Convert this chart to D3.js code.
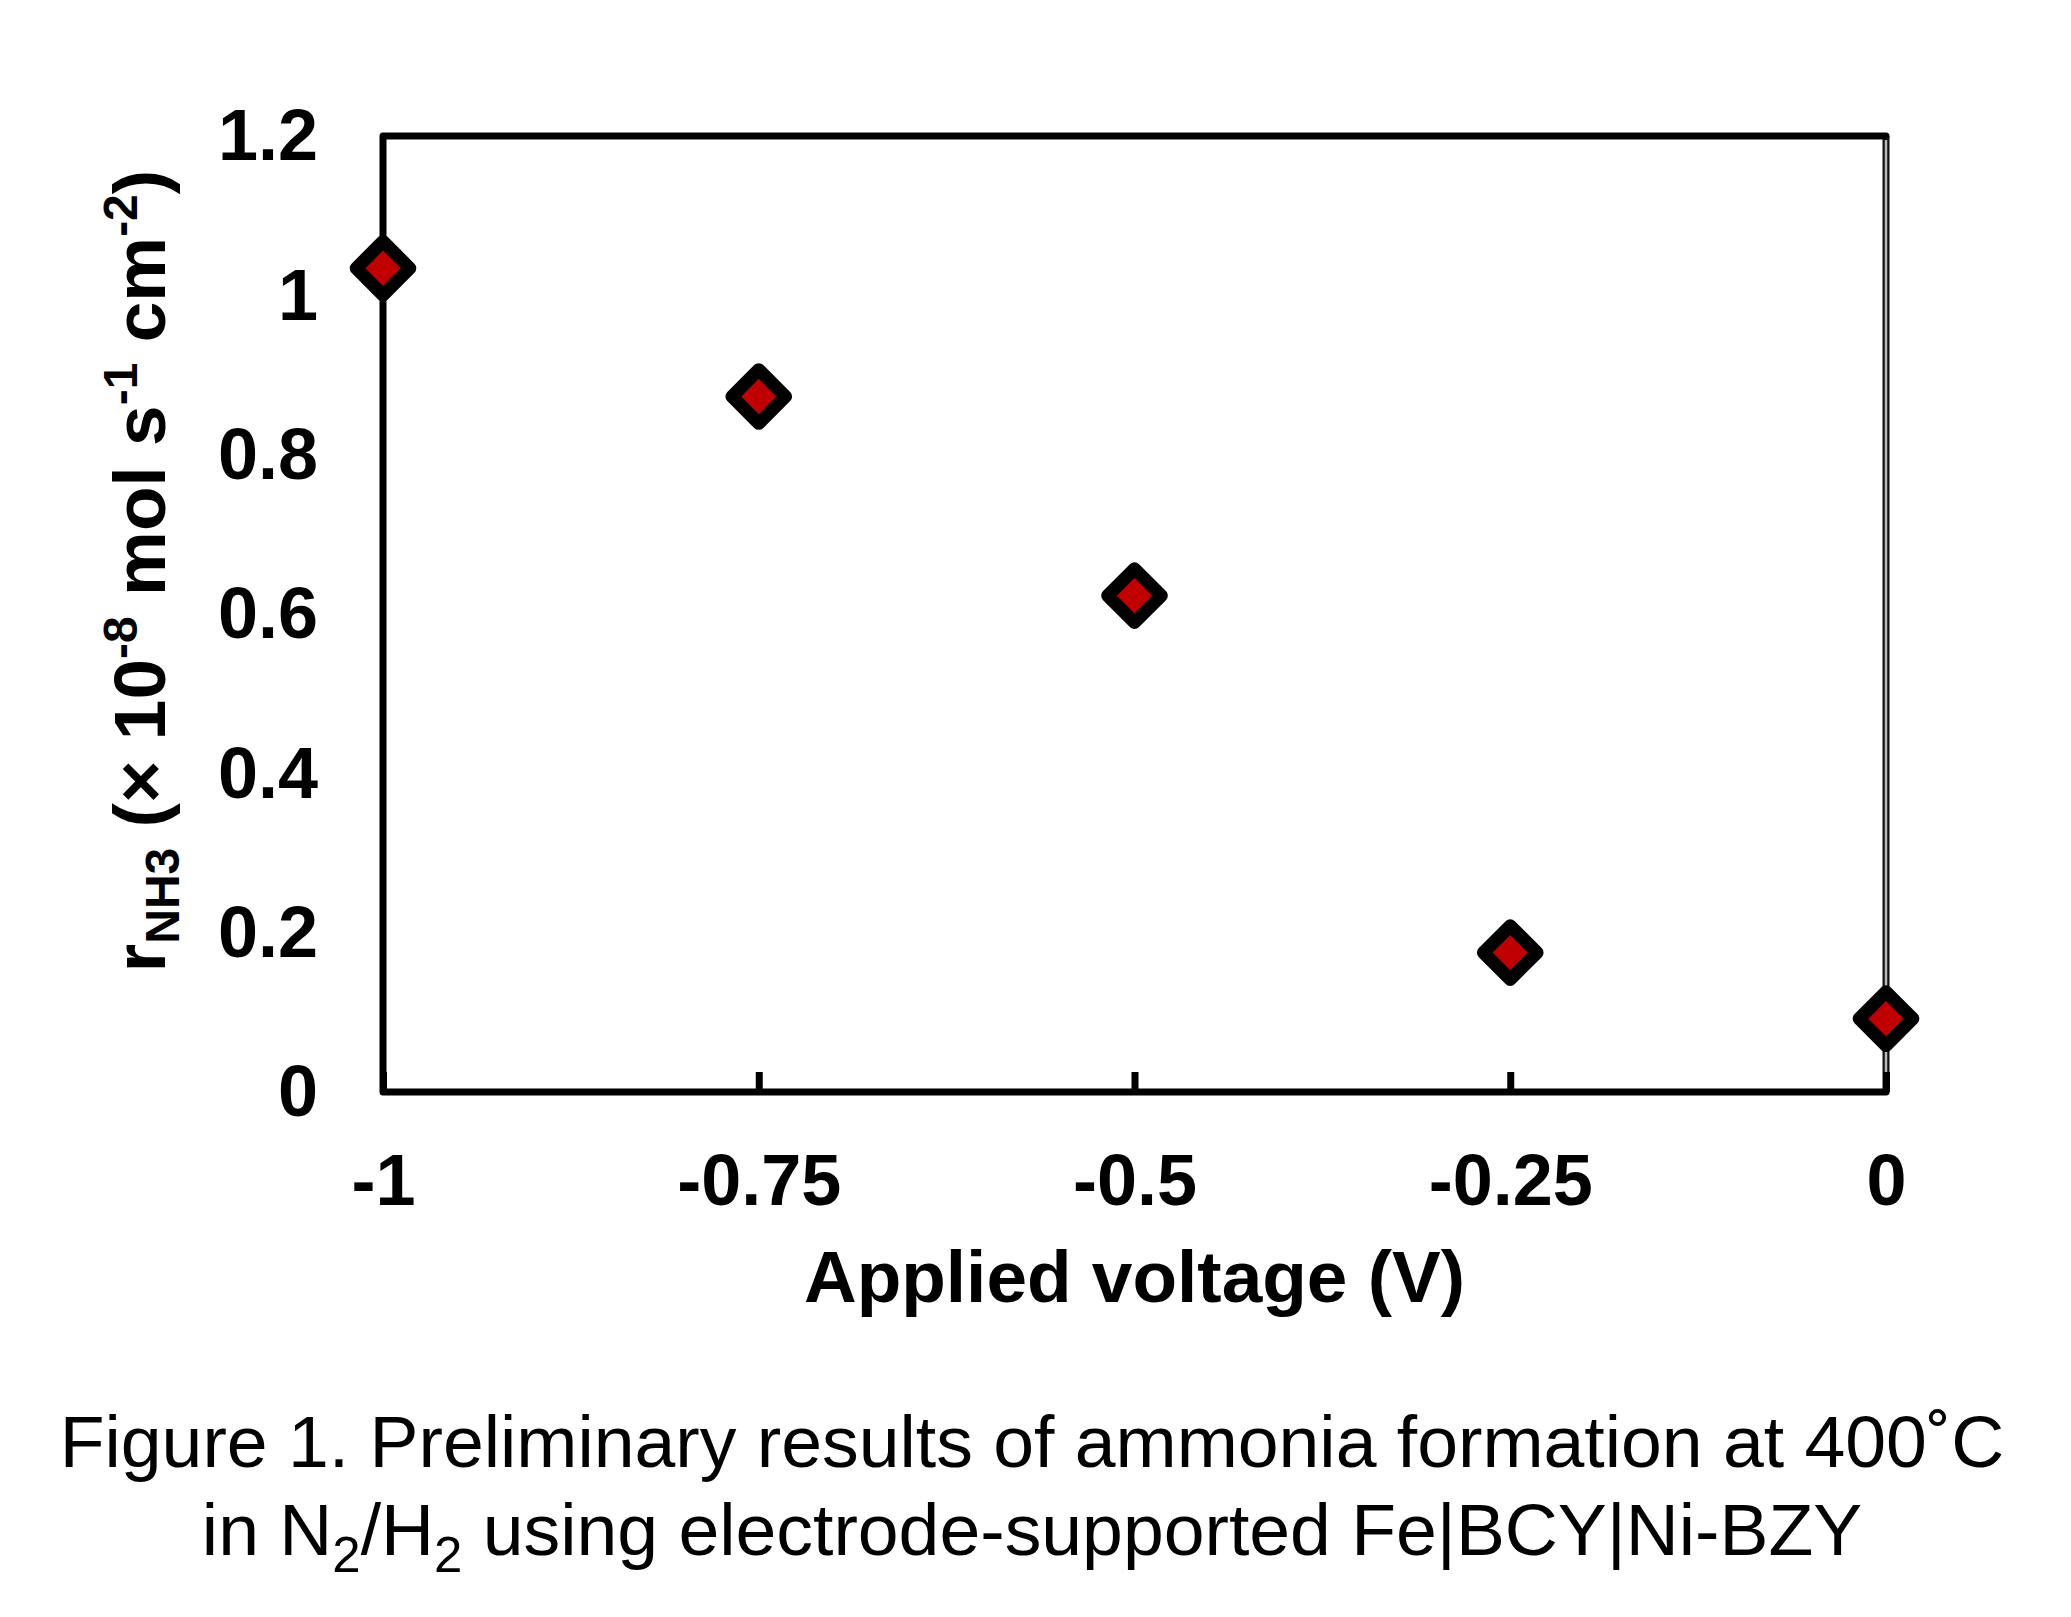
<!DOCTYPE html>
<html>
<head>
<meta charset="utf-8">
<script src="https://cdn.jsdelivr.net/npm/d3@7"></script>
<style>
  body { margin: 0; background: #fff; }
  text { font-family: "Liberation Sans", Arial, sans-serif; }
</style>
</head>
<body>
<div id="chart"></div>
<script>
// values
const voltage = [-1, -0.75, -0.5, -0.25, 0];
const rateNH3 = [1.034, 0.873, 0.623, 0.175, 0.092];
const xTicks = [-1, -0.75, -0.5, -0.25, 0];
const yTicks = [0, 0.2, 0.4, 0.6, 0.8, 1, 1.2];

const width = 2071, height = 1617,
    margin = ({ top: 136, right: 185, bottom: 525, left: 383 });

const svg = d3.select("#chart")
    .append("svg")
    .attr("width", width)
    .attr("height", height)
    .attr("viewBox", [0, 0, width, height]);

const data = voltage.map((v, i) => ({ v: v, r: rateNH3[i] }));

let x = d3.scaleLinear()
    .domain([-1, 0])
    .range([margin.left, width - margin.right]);

let y = d3.scaleLinear()
    .domain([0, 1.2])
    .range([height - margin.bottom, margin.top]);

const x0 = x.range()[0], x1 = x.range()[1],
    yb = y.range()[0], yt = y.range()[1];

// right border: grey line with dark edges
svg.append("line")
    .attr("x1", x1).attr("x2", x1).attr("y1", yt).attr("y2", yb)
    .attr("stroke", "#111").attr("stroke-width", 7);
svg.append("line")
    .attr("x1", x1).attr("x2", x1).attr("y1", yt + 4).attr("y2", yb)
    .attr("stroke", "#b8b8b8").attr("stroke-width", 2.5);

// left, top, bottom frame
svg.append("path")
    .attr("d", `M${x1},${yt}L${x0},${yt}L${x0},${yb}L${x1},${yb}`)
    .attr("fill", "none")
    .attr("stroke", "#000")
    .attr("stroke-width", 7)
    .attr("stroke-linejoin", "round")
    .attr("stroke-linecap", "round");

// x axis, ticks point inward
const gx = svg.append("g")
    .attr("transform", `translate(0,${yb})`)
    .call(d3.axisBottom(x).tickValues(xTicks).tickFormat(d => String(d))
        .tickSizeInner(-20).tickSizeOuter(0).tickPadding(62));
gx.select(".domain").remove();
gx.selectAll(".tick line").attr("stroke", "#000").attr("stroke-width", 7);
gx.selectAll(".tick text")
    .attr("fill", "#000")
    .attr("font-size", 72)
    .attr("font-weight", "bold")
    .attr("font-family", "Liberation Sans, Arial, sans-serif");

// y axis, labels only
const gy = svg.append("g")
    .attr("transform", `translate(${x0},0)`)
    .call(d3.axisLeft(y).tickValues(yTicks).tickFormat(d => String(d))
        .tickSize(0).tickPadding(65));
gy.select(".domain").remove();
gy.selectAll(".tick text")
    .attr("fill", "#000")
    .attr("font-size", 72)
    .attr("font-weight", "bold")
    .attr("dy", "0.33em")
    .attr("font-family", "Liberation Sans, Arial, sans-serif");

// diamonds
svg.append("g")
    .selectAll("path")
    .data(data)
    .join("path")
    .attr("transform", d => `translate(${x(d.v)},${y(d.r)}) rotate(45)`)
    .attr("d", d3.symbol(d3.symbolSquare, 1440))
    .attr("fill", "#c00000")
    .attr("stroke", "#000")
    .attr("stroke-width", 13)
    .attr("stroke-linejoin", "round");

// axis titles
svg.append("text")
    .attr("x", (x0 + x1) / 2)
    .attr("y", 1302)
    .attr("text-anchor", "middle")
    .attr("font-size", 73)
    .attr("font-weight", "bold")
    .text("Applied voltage (V)");

const yl = svg.append("text")
    .attr("transform", "translate(165,571) rotate(-90)")
    .attr("text-anchor", "middle")
    .attr("font-size", 73)
    .attr("font-weight", "bold");
yl.append("tspan").text("r");
yl.append("tspan").attr("font-size", 48).attr("dy", 14).text("NH3");
yl.append("tspan").attr("dy", -14).text(" (\u00d7 10");
yl.append("tspan").attr("font-size", 48).attr("dy", -28).text("-8");
yl.append("tspan").attr("dy", 28).text(" mol s");
yl.append("tspan").attr("font-size", 48).attr("dy", -28).text("-1");
yl.append("tspan").attr("dy", 28).text(" cm");
yl.append("tspan").attr("font-size", 48).attr("dy", -28).text("-2");
yl.append("tspan").attr("dy", 28).text(")");

// caption, narrow like the original
const cap = svg.append("g").attr("transform", "translate(1032,0)");
const c1 = cap.append("text")
    .attr("y", 1467)
    .attr("text-anchor", "middle")
    .attr("font-size", 72)
    .text("Figure 1. Preliminary results of ammonia formation at 400\u02daC");
const c2 = cap.append("text")
    .attr("y", 1555)
    .attr("text-anchor", "middle")
    .attr("font-size", 72);
c2.append("tspan").text("in N");
c2.append("tspan").attr("font-size", 50).attr("dy", 17).text("2");
c2.append("tspan").attr("dy", -17).text("/H");
c2.append("tspan").attr("font-size", 50).attr("dy", 17).text("2");
c2.append("tspan").attr("dy", -17).text(" using electrode-supported Fe|BCY|Ni-BZY");

const sx = 1945 / c1.node().getComputedTextLength();
cap.attr("transform", `translate(1032,0) scale(${sx},1)`);
</script>
</body>
</html>
